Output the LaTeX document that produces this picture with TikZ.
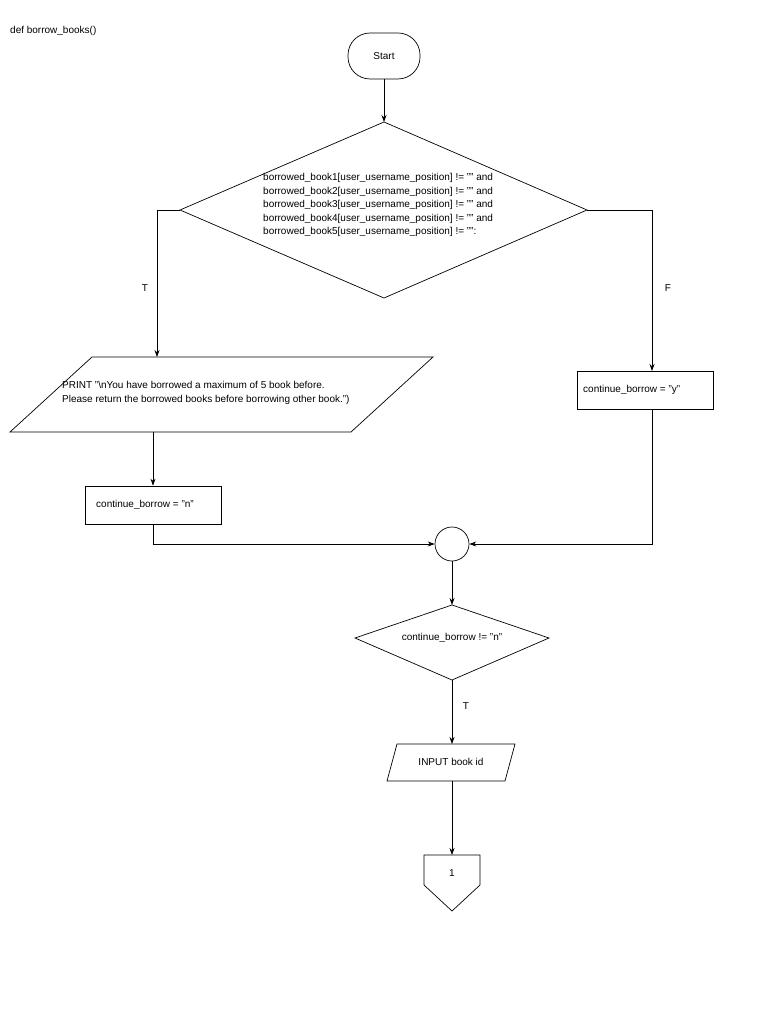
\documentclass[tikz,border=0pt]{standalone}
\usepackage{fontspec}
\setmainfont{Liberation Sans}
\usetikzlibrary{arrows.meta}
\begin{document}
\begin{tikzpicture}[x=1pt,y=-1pt,
  ln/.style={line width=0.7pt,draw=black},
  arr/.style={ln,-{Stealth[length=7pt,width=5pt]}},
  txt/.style={font=\fontsize{10}{13.5}\selectfont,inner sep=0pt},
  box/.style={ln,rectangle,minimum width=136pt,minimum height=38pt}]
\useasboundingbox (0,0) rectangle (768,1024);
\fill[white] (0,0) rectangle (768,1024);
\node[txt,anchor=west] (title) at (10,31) {def borrow\_books()};
\node[ln,rectangle,rounded corners=22pt,minimum width=72pt,minimum height=46pt,font=\fontsize{10}{12}\selectfont] (start) at (384,56) {Start};
% diamond 1
\draw[ln] (384,122) coordinate (d1t) -- (587,210) coordinate (d1r) -- (384,298) coordinate (d1b) -- (180,210) coordinate (d1l) -- cycle;
\node[txt,align=left,anchor=west] (d1) at (263,205) {borrowed\_book1[user\_username\_position] != "" and\\borrowed\_book2[user\_username\_position] != "" and\\borrowed\_book3[user\_username\_position] != "" and\\borrowed\_book4[user\_username\_position] != "" and\\borrowed\_book5[user\_username\_position] != "":};
\draw[arr] (start) -- (d1t);
% parallelogram 1
\draw[ln] (92,357) coordinate (p1t) -- (433,357) -- (351,432) -- (10,432) -- cycle;
\coordinate (p1top) at (157,357);
\coordinate (p1bot) at (153,432);
\node[txt,align=left,anchor=west] (p1) at (62,393) {PRINT "\textbackslash nYou have borrowed a maximum of 5 book before.\\Please return the borrowed books before borrowing other book.")};
\node[box] (cn) at (153,505) {};
\node[txt,anchor=west] (cnt) at (96,505) {continue\_borrow = "n"};
\node[box] (cy) at (645,390) {};
\node[txt,anchor=west] (cyt) at (583,390) {continue\_borrow = "y"};
\draw[arr] (d1l) -- (157,210) -- (p1top);
\draw[arr] (d1r) -- (652,210) -- (652,371);
\node[txt] (tl) at (145,288) {T};
\node[txt] (fl) at (668,288) {F};
\draw[arr] (p1bot) -- (cn.north);
\node[ln,circle,minimum size=34pt,inner sep=0pt] (c) at (452,544) {};
\draw[arr] (cn.south) -- (153,544) -- (c.west);
\draw[arr] (652,409) -- (652,544) -- (c.east);
% diamond 2
\draw[ln] (452,605) coordinate (d2t) -- (549,638) -- (452,680) coordinate (d2b) -- (355,638) -- cycle;
\node[txt] (d2) at (452,638) {continue\_borrow != "n"};
\draw[arr] (c) -- (d2t);
% parallelogram 2
\draw[ln] (397,744) coordinate (p2tl) -- (515,744) -- (505,781) -- (387,781) -- cycle;
\node[txt] (p2) at (451,762) {INPUT book id};
\draw[arr] (d2b) -- (452,744);
\node[txt] (t2) at (466,706) {T};
% off-page connector
\draw[ln] (424,855) -- (480,855) -- (480,885) -- (452,911) -- (424,885) -- cycle;
\node[txt] (one) at (452,873) {1};
\draw[arr] (452,781) -- (452,855);
\end{tikzpicture}
\end{document}
